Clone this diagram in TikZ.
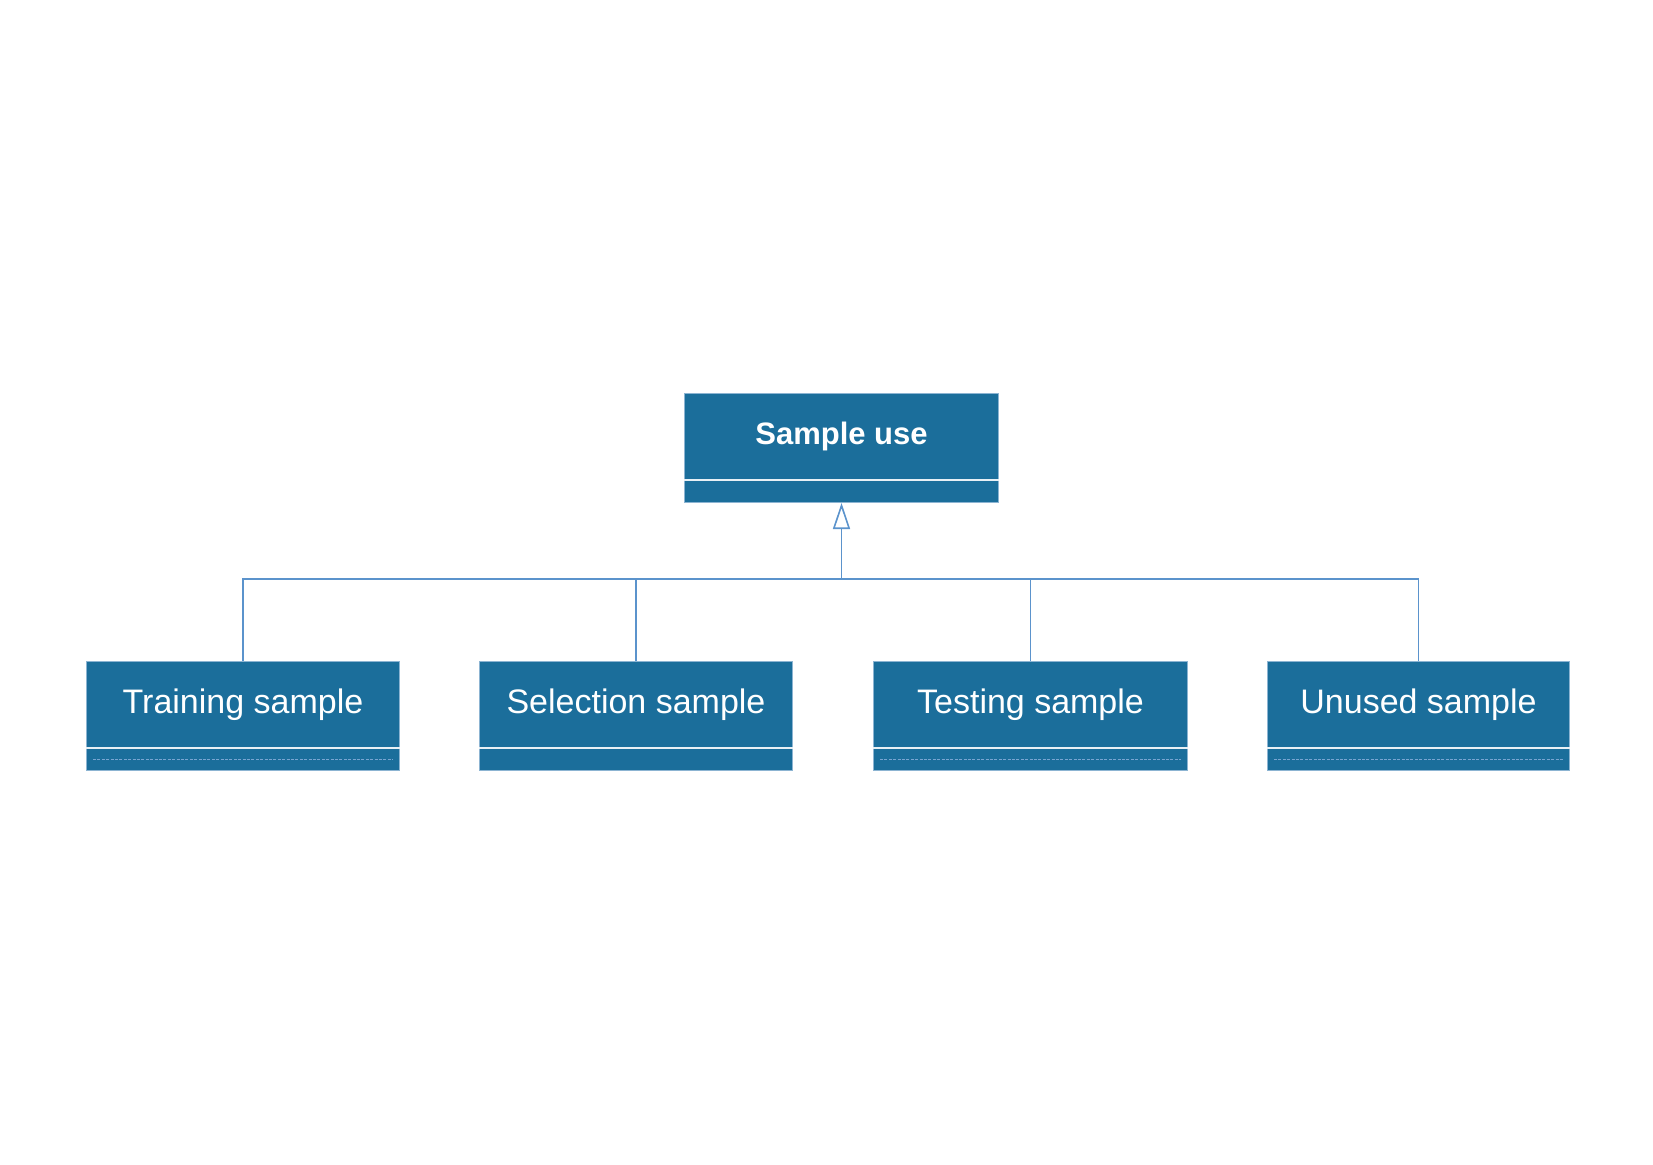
\documentclass[tikz,border=0pt]{standalone}
\usepackage{fontspec}
\setmainfont{Liberation Sans}
\usetikzlibrary{arrows.meta}
\definecolor{boxblue}{RGB}{27,110,155}
\definecolor{edgeblue}{RGB}{140,180,210}
\definecolor{linkblue}{RGB}{91,147,204}
\definecolor{dashblue}{RGB}{120,165,210}
\begin{document}
\begin{tikzpicture}[x=0.5pt,y=-0.5pt,
  header/.style={draw=edgeblue, fill=boxblue, line width=0.5pt, minimum height=43pt,
    inner sep=0pt, text=white, font=\fontsize{17}{20}\selectfont, anchor=north west},
  boldheader/.style={header, font=\fontsize{15.5}{19}\selectfont\bfseries},
  compartment/.style={draw=edgeblue, fill=boxblue, line width=0.5pt, minimum height=11pt,
    inner sep=0pt, anchor=north west},
  divider/.style={draw=white!90!boxblue, line width=1pt},
  dashline/.style={draw=dashblue, line width=0.5pt, dash pattern=on 1.5pt off 0.7pt},
  link/.style={draw=linkblue, line width=0.8pt},
  gen/.style={link, -{Triangle[open, length=13pt, width=8.5pt, line width=0.8pt]}}
]
\path[fill=white, use as bounding box] (0,0) rectangle (1653,1165);

% top class
\node[boldheader, minimum width=157pt] (useH) at (684,393) {Sample use};
\node[compartment, minimum width=157pt] (useB) at (useH.south west) {};
\draw[divider] (useH.south west) -- (useH.south east);

% subclasses
\node[header, minimum width=156.5pt] (trainH) at (86,661) {Training sample};
\node[compartment, minimum width=156.5pt] (trainB) at (trainH.south west) {};
\draw[divider] (trainH.south west) -- (trainH.south east);
\draw[dashline] ([xshift=3.5pt]trainB.west) -- ([xshift=-3.5pt]trainB.east);

\node[header, minimum width=156.5pt] (selH) at (479,661) {Selection sample};
\node[compartment, minimum width=156.5pt] (selB) at (selH.south west) {};
\draw[divider] (selH.south west) -- (selH.south east);

\node[header, minimum width=157pt] (testH) at (873,661) {Testing sample};
\node[compartment, minimum width=157pt] (testB) at (testH.south west) {};
\draw[divider] (testH.south west) -- (testH.south east);
\draw[dashline] ([xshift=3.5pt]testB.west) -- ([xshift=-3.5pt]testB.east);

\node[header, minimum width=151pt] (unusedH) at (1267,661) {Unused sample};
\node[compartment, minimum width=151pt] (unusedB) at (unusedH.south west) {};
\draw[divider] (unusedH.south west) -- (unusedH.south east);
\draw[dashline] ([xshift=3.5pt]unusedB.west) -- ([xshift=-3.5pt]unusedB.east);

% generalization connectors
\coordinate (bus) at (useB.south |- 0,579);
\draw[link] (trainH.north) |- (bus);
\draw[link] (selH.north) |- (bus);
\draw[link] (testH.north) |- (bus);
\draw[link] (unusedH.north) |- (bus);
\draw[gen] (bus) -- (useB.south);
\end{tikzpicture}
\end{document}
